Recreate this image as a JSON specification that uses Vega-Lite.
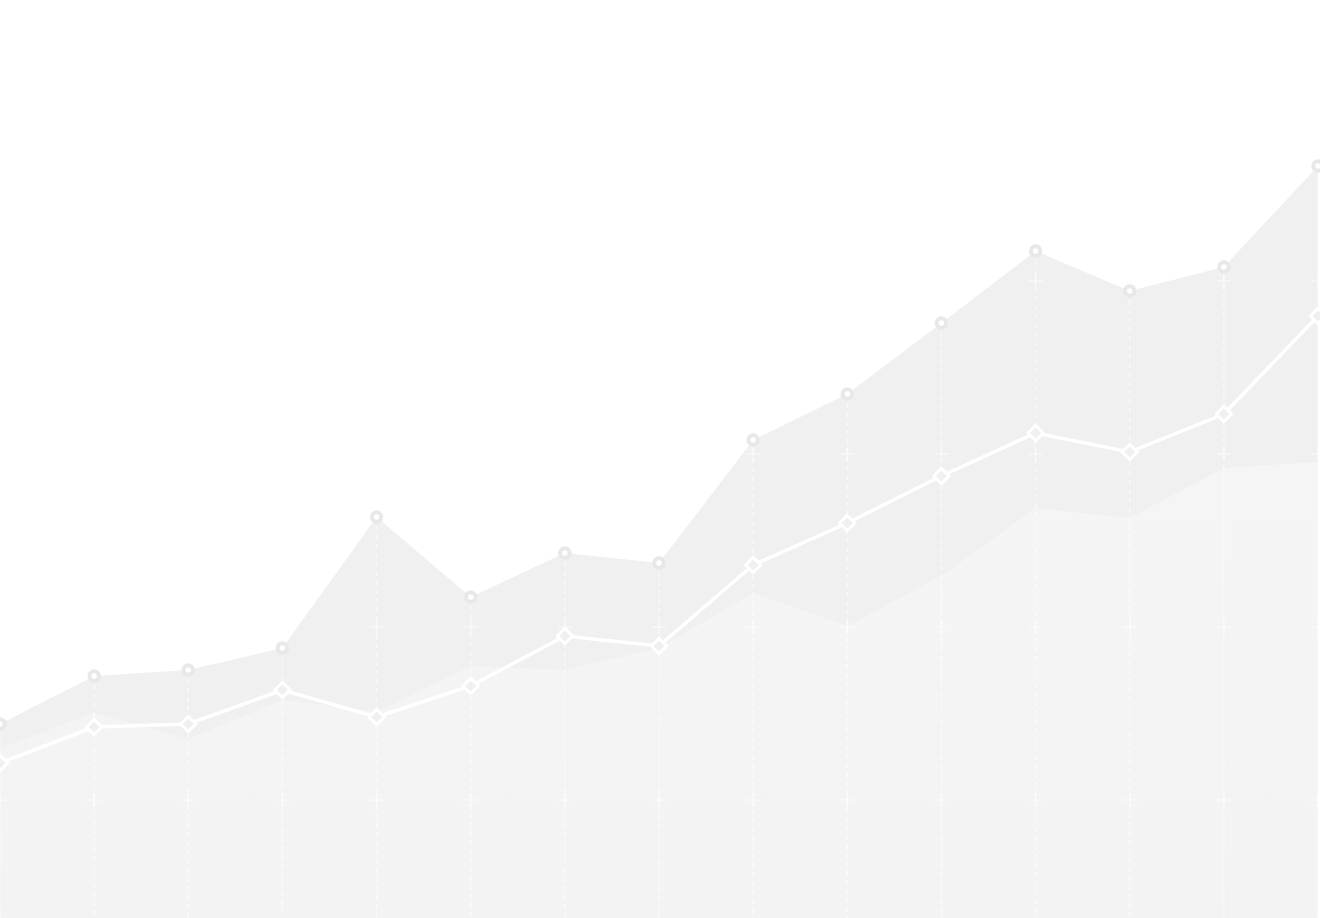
{
  "$schema": "https://vega.github.io/schema/vega-lite/v6.json",
  "width": 1320,
  "height": 918,
  "autosize": {"type": "none"},
  "padding": 0,
  "background": "#ffffff",
  "config": {"view": {"stroke": null}},
  "datasets": {
    "series": [
      {"i": 0, "top": 194, "mid": 155, "low": 170},
      {"i": 1, "top": 242, "mid": 191, "low": 205},
      {"i": 2, "top": 248, "mid": 194, "low": 179},
      {"i": 3, "top": 270, "mid": 228, "low": 218},
      {"i": 4, "top": 401, "mid": 201, "low": 206},
      {"i": 5, "top": 321, "mid": 232, "low": 252},
      {"i": 6, "top": 365, "mid": 282, "low": 248},
      {"i": 7, "top": 355, "mid": 272, "low": 270},
      {"i": 8, "top": 478, "mid": 353, "low": 325},
      {"i": 9, "top": 524, "mid": 395, "low": 292},
      {"i": 10, "top": 595, "mid": 442, "low": 342},
      {"i": 11, "top": 667, "mid": 485, "low": 410},
      {"i": 12, "top": 627, "mid": 466, "low": 400},
      {"i": 13, "top": 651, "mid": 504, "low": 450},
      {"i": 14, "top": 752, "mid": 602, "low": 456}
    ],
    "crosses": [
      {"i": 0, "level": 118}, {"i": 1, "level": 118}, {"i": 2, "level": 118}, {"i": 3, "level": 118}, {"i": 4, "level": 118},
      {"i": 5, "level": 118}, {"i": 6, "level": 118}, {"i": 7, "level": 118}, {"i": 8, "level": 118}, {"i": 9, "level": 118},
      {"i": 10, "level": 118}, {"i": 11, "level": 118}, {"i": 12, "level": 118}, {"i": 13, "level": 118}, {"i": 14, "level": 118},
      {"i": 0, "level": 291}, {"i": 1, "level": 291}, {"i": 2, "level": 291}, {"i": 3, "level": 291}, {"i": 4, "level": 291},
      {"i": 5, "level": 291}, {"i": 6, "level": 291}, {"i": 7, "level": 291}, {"i": 8, "level": 291}, {"i": 9, "level": 291},
      {"i": 10, "level": 291}, {"i": 11, "level": 291}, {"i": 12, "level": 291}, {"i": 13, "level": 291}, {"i": 14, "level": 291},
      {"i": 0, "level": 464}, {"i": 1, "level": 464}, {"i": 2, "level": 464}, {"i": 3, "level": 464}, {"i": 4, "level": 464},
      {"i": 5, "level": 464}, {"i": 6, "level": 464}, {"i": 7, "level": 464}, {"i": 8, "level": 464}, {"i": 9, "level": 464},
      {"i": 10, "level": 464}, {"i": 11, "level": 464}, {"i": 12, "level": 464}, {"i": 13, "level": 464}, {"i": 14, "level": 464},
      {"i": 0, "level": 637}, {"i": 1, "level": 637}, {"i": 2, "level": 637}, {"i": 3, "level": 637}, {"i": 4, "level": 637},
      {"i": 5, "level": 637}, {"i": 6, "level": 637}, {"i": 7, "level": 637}, {"i": 8, "level": 637}, {"i": 9, "level": 637},
      {"i": 10, "level": 637}, {"i": 11, "level": 637}, {"i": 12, "level": 637}, {"i": 13, "level": 637}, {"i": 14, "level": 637}
    ]
  },
  "data": {"name": "series"},
  "layer": [
    {
      "mark": {"type": "area", "color": "#f0f0f0", "interpolate": "linear"},
      "encoding": {
        "x": {"field": "i", "type": "quantitative", "scale": {"domain": [0, 14], "range": [0, 1318], "nice": false, "zero": false}, "axis": null},
        "y": {"field": "top", "type": "quantitative", "scale": {"domain": [0, 918], "range": [918, 0], "nice": false}, "axis": null}
      }
    },
    {
      "mark": {
        "type": "area",
        "color": {
          "x1": 0, "y1": 0, "x2": 0, "y2": 1,
          "gradient": "linear",
          "stops": [
            {"offset": 0, "color": "#f5f5f5"},
            {"offset": 1, "color": "#f3f3f3"}
          ]
        }
      },
      "encoding": {
        "x": {"field": "i", "type": "quantitative"},
        "y": {"field": "low", "type": "quantitative"}
      }
    },
    {
      "mark": {"type": "rule", "color": "#ffffff", "opacity": 0.55, "strokeWidth": 1.5, "strokeDash": [5, 4]},
      "encoding": {
        "x": {"field": "i", "type": "quantitative"},
        "y": {"field": "top", "type": "quantitative"},
        "y2": {"datum": 0}
      }
    },
    {
      "data": {"name": "crosses"},
      "mark": {"type": "point", "shape": "M-1,0H1M0,-1V1", "filled": false, "stroke": "#ffffff", "strokeWidth": 1.5, "size": 190, "opacity": 0.55},
      "encoding": {
        "x": {"field": "i", "type": "quantitative"},
        "y": {"field": "level", "type": "quantitative"}
      }
    },
    {
      "mark": {"type": "line", "color": "#ffffff", "strokeWidth": 3.5},
      "encoding": {
        "x": {"field": "i", "type": "quantitative"},
        "y": {"field": "mid", "type": "quantitative"}
      }
    },
    {
      "mark": {"type": "point", "shape": "diamond", "filled": false, "fill": "#f0f0f0", "fillOpacity": 1, "stroke": "#ffffff", "strokeWidth": 3, "size": 230, "opacity": 1},
      "encoding": {
        "x": {"field": "i", "type": "quantitative"},
        "y": {"field": "mid", "type": "quantitative"}
      }
    },
    {
      "mark": {"type": "point", "shape": "circle", "filled": false, "fill": "#ffffff", "fillOpacity": 1, "stroke": "#e8e8e8", "strokeWidth": 4, "size": 90, "opacity": 1},
      "encoding": {
        "x": {"field": "i", "type": "quantitative"},
        "y": {"field": "top", "type": "quantitative"}
      }
    }
  ]
}
